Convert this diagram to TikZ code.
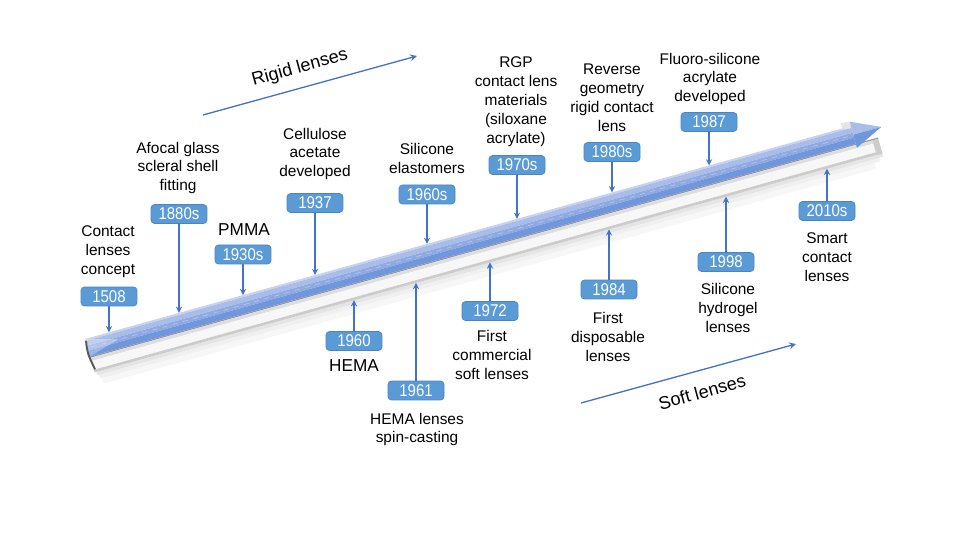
\documentclass[tikz,border=0pt]{standalone}
\usepackage{fontspec}
\setmainfont{Liberation Sans}
\newfontfamily\yearfont[FakeStretch=0.88]{Liberation Sans}
\usepackage{tikz}
\usetikzlibrary{arrows,positioning,calc}
\usepackage{xcolor}

\definecolor{boxblue}{HTML}{5B9BD5}
\definecolor{boxedge}{HTML}{4A84C4}
\definecolor{linkblue}{HTML}{4472C4}
\definecolor{barlight}{HTML}{C8D3EF}
\definecolor{bartop}{HTML}{A9BDE8}
\definecolor{barmid}{HTML}{8FAAE2}
\definecolor{barlow}{HTML}{7096DC}
\definecolor{barseam}{HTML}{9A9794}

\begin{document}
\begin{tikzpicture}[
    x=0.02cm, y=-0.02cm,
    yearbox/.style={rectangle, draw=boxedge, fill=boxblue, rounded corners=2pt, minimum width=1.12cm, minimum height=0.38cm, inner sep=0pt, text=white, font=\yearfont\fontsize{9.7}{10}\selectfont},
    event/.style={align=center, inner sep=0pt, font=\fontsize{8.8}{10.8}\selectfont},
    bigevent/.style={inner sep=0pt, font=\fontsize{9.8}{11}\selectfont},
    period/.style={inner sep=0pt, rotate=15.4, font=\fontsize{10.3}{12}\selectfont},
    arrow/.style={->, >=stealth, draw=linkblue, line width=0.6pt},
    periodarrow/.style={->, >=stealth, draw=linkblue, line width=0.75pt}
]
\useasboundingbox (0,0) rectangle (960,540);

% Timeline bar
\begin{scope}[shift={(85,339)}, rotate=15.54]
    % shadow
    \fill[black, opacity=0.10] (2,34.7) rectangle (818,38);
    \fill[black, opacity=0.06] (4,38) rectangle (814,42);
    \fill[black, opacity=0.03] (6,42) rectangle (808,48);
    % lower white face
    \fill[barseam] (0,18.3) rectangle (818,19.6);
    \fill[black!13] (0,19.6) rectangle (818,23);
    \fill[black!3] (0,23) rectangle (818,32);
    \fill[black!20] (0,32) rectangle (818,34.7);
    \fill[black!20] (812,19.6) rectangle (818,34.7);
    % blue face
    \fill[barlight] (0,0) rectangle (795,2);
    \fill[bartop] (0,2) rectangle (795,7);
    \fill[barmid] (0,7) rectangle (795,12);
    \fill[barlow] (0,12) rectangle (795,18.3);
    \draw[white, opacity=0.3, dashed, line width=0.4pt] (4,9.5) -- (790,9.5);
    \fill[white, opacity=0.3] (0,0) -- (32,9) -- (0,18.3) -- cycle;
    % left end
    \draw[black!65, line width=1.1pt] (0.5,2) .. controls (-1.5,14) .. (1.5,32);
    % arrow head
    \fill[black!10] (786,-5.5) -- (795,-4.5) -- (795,2) -- (786,1) -- cycle;
    \fill[bartop] (795,-4.5) -- (824,9) -- (795,9) -- cycle;
    \fill[barlow] (795,9) -- (824,9) -- (795,22.5) -- cycle;
\end{scope}

% Points on the bar
\coordinate (b1508) at (109,332.3);
\coordinate (b1880) at (179,312.8);
\coordinate (b1930) at (243,295.1);
\coordinate (b1937) at (315,275.0);
\coordinate (b1960s) at (427,243.9);
\coordinate (b1970) at (517,218.9);
\coordinate (b1980) at (612,192.4);
\coordinate (b1987) at (709,165.5);
\coordinate (b1960) at (354,300.2);
\coordinate (b1961) at (416,282.9);
\coordinate (b1972) at (490,262.4);
\coordinate (b1984) at (609,229.3);
\coordinate (b1998) at (726,196.7);
\coordinate (b2010) at (827,168.6);

% Years above the bar
\node[yearbox] (y1508) at (109,296.5) {1508};
\node[yearbox] (y1880) at (179,214) {1880s};
\node[yearbox] (y1930) at (243,254.5) {1930s};
\node[yearbox] (y1937) at (315,203) {1937};
\node[yearbox] (y1960s) at (427,194.5) {1960s};
\node[yearbox] (y1970) at (517,165) {1970s};
\node[yearbox] (y1980) at (612,152) {1980s};
\node[yearbox] (y1987) at (709,122) {1987};

% Years below the bar
\node[yearbox] (y1960) at (354,341) {1960};
\node[yearbox] (y1961) at (416,390.5) {1961};
\node[yearbox] (y1972) at (490,311) {1972};
\node[yearbox] (y1984) at (609,289.5) {1984};
\node[yearbox] (y1998) at (726,262) {1998};
\node[yearbox] (y2010) at (827,211) {2010s};

% Events
\node[event] (t1508) at (108,252) {Contact\\lenses\\concept};
\node[event] (t1880) at (178,168) {Afocal glass\\scleral shell\\fitting};
\node[bigevent] (t1930) at (244,230) {PMMA};
\node[event] (t1937) at (315,154) {Cellulose\\acetate\\developed};
\node[event] (t1960s) at (427,158) {Silicone\\elastomers};
\node[event] (t1970) at (516,101.5) {RGP\\contact lens\\materials\\(siloxane\\acrylate)};
\node[event] (t1980) at (612,98) {Reverse\\geometry\\rigid contact\\lens};
\node[event] (t1987) at (710,79) {Fluoro-silicone\\acrylate\\developed};
\node[bigevent] (t1960) at (354,366) {HEMA};
\node[event] (t1961) at (417,429.5) {HEMA lenses\\spin-casting};
\node[event] (t1972) at (492,355) {First\\commercial\\soft lenses};
\node[event] (t1984) at (608,337) {First\\disposable\\lenses};
\node[event] (t1998) at (728,308) {Silicone\\hydrogel\\lenses};
\node[event] (t2010) at (827,257) {Smart\\contact\\lenses};

% Links to the bar
\foreach \y in {1508,1880,1930,1937,1960s,1970,1980,1987,1960,1961,1972,1984,1998,2010}
    \draw[arrow] (y\y) -- (b\y);

% Periods
\coordinate (rigidA) at (203,115);
\coordinate (rigidB) at (417,56);
\draw[periodarrow] (rigidA) -- (rigidB);
\node[period] (rigid) at (300,68) {Rigid lenses};

\coordinate (softA) at (581,403);
\coordinate (softB) at (796,344);
\draw[periodarrow] (softA) -- (softB);
\node[period] (soft) at (702,392) {Soft lenses};

\end{tikzpicture}
\end{document}
